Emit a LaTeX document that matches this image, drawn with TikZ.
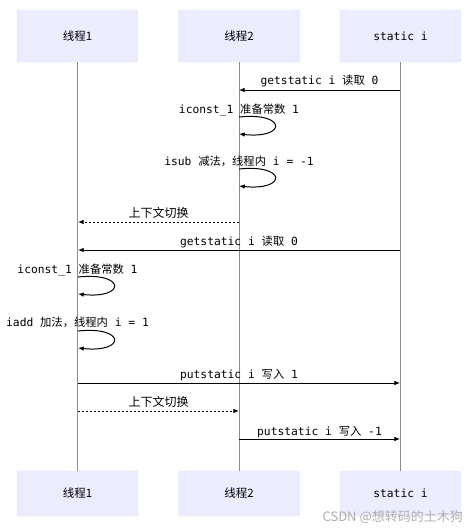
\documentclass[tikz,border=0pt]{standalone}
\usepackage{fontspec}
\setmonofont{DejaVu Sans Mono}
\newfontfamily\cjk{Noto Sans CJK SC}
\usepackage{xcolor}
\definecolor{actorfill}{RGB}{236,236,255}
\definecolor{actorline}{RGB}{222,222,246}
\definecolor{lifegray}{RGB}{140,140,140}
\definecolor{markgray}{RGB}{175,175,175}
\usetikzlibrary{arrows.meta,positioning,calc}
\newcommand{\zh}[1]{{\cjk #1}}

\begin{document}
\begin{tikzpicture}[x=1pt,y=-1pt,
  actor/.style={draw=actorline,fill=actorfill,rounded corners=2pt,minimum width=121pt,
    minimum height=52pt,inner sep=0pt,font=\cjk\fontsize{11.5}{13}\selectfont},
  lbl/.style={inner sep=0pt,anchor=base,font=\ttfamily\fontsize{11.3}{13}\selectfont},
  life/.style={lifegray,line width=0.9pt},
  msg/.style={-{Latex[length=2mm,width=1.6mm]},line width=0.8pt},
  back/.style={msg,dash pattern=on 2pt off 2pt},
  self/.style={-{Latex[length=2mm,width=1.6mm]},line width=1pt}]
  \useasboundingbox (0,0) rectangle (474,528);
  \node[actor](t1) at (77.5,36){线程1};
  \node[actor](t2) at (239,36){线程2};
  \node[actor,font=\ttfamily\fontsize{11.3}{13}\selectfont](ts) at (400.5,36){static i};
  \node[actor,minimum height=45pt](b1) at (77.5,493.5){线程1};
  \node[actor,minimum height=45pt](b2) at (239,493.5){线程2};
  \node[actor,minimum height=45pt,font=\ttfamily\fontsize{11.3}{13}\selectfont](bs) at (400.5,493.5){static i};
  \draw[life](t1)--(b1); \draw[life](t2)--(b2); \draw[life](ts)--(bs);
  \coordinate (g1s) at (400,90); \coordinate (g1e) at (239,90);
  \coordinate (c1a) at (239,117); \coordinate (c1b) at (239,134);
  \coordinate (s1a) at (239,169); \coordinate (s1b) at (239,186);
  \coordinate (x1s) at (239,222); \coordinate (x1e) at (78,222);
  \coordinate (g2s) at (400,250); \coordinate (g2e) at (78,250);
  \coordinate (c2a) at (78,277); \coordinate (c2b) at (78,294);
  \coordinate (a2a) at (78,331); \coordinate (a2b) at (78,348);
  \coordinate (p1s) at (78,383); \coordinate (p1e) at (400,383);
  \coordinate (x2s) at (78,411); \coordinate (x2e) at (239,411);
  \coordinate (p2s) at (239,439); \coordinate (p2e) at (400,439);
  \node[lbl](lg1) at (319.5,84){getstatic i \zh{读取} 0};
  \node[lbl](lc1) at (239,113){iconst\_1 \zh{准备常数} 1};
  \node[lbl](ls1) at (239,165){isub \zh{减法，线程内} i = -1};
  \node[lbl,font=\cjk\fontsize{12}{13}\selectfont](lx1) at (158.5,217){上下文切换};
  \node[lbl](lg2) at (239,245){getstatic i \zh{读取} 0};
  \node[lbl](lc2) at (77.5,273){iconst\_1 \zh{准备常数} 1};
  \node[lbl](la2) at (77.5,326){iadd \zh{加法，线程内} i = 1};
  \node[lbl](lp1) at (239,378){putstatic i \zh{写入} 1};
  \node[lbl,font=\cjk\fontsize{12}{13}\selectfont](lx2) at (158.5,406){上下文切换};
  \node[lbl](lp2) at (319.5,435){putstatic i \zh{写入} -1};
  \draw[msg](g1s)--(g1e);
  \draw[self](c1a) .. controls +(48,-5) and +(48,5) .. (c1b);
  \draw[self](s1a) .. controls +(48,-5) and +(48,5) .. (s1b);
  \draw[back](x1s)--(x1e);
  \draw[msg](g2s)--(g2e);
  \draw[self](c2a) .. controls +(48,-5) and +(48,5) .. (c2b);
  \draw[self](a2a) .. controls +(48,-5) and +(48,5) .. (a2b);
  \draw[msg](p1s)--(p1e);
  \draw[back](x2s)--(x2e);
  \draw[msg](p2s)--(p2e);
  \node[markgray,anchor=east,inner sep=0pt,font=\cjk\fontsize{13}{15}\selectfont](wm) at (463,517){CSDN @想转码的土木狗};
\end{tikzpicture}
\end{document}
